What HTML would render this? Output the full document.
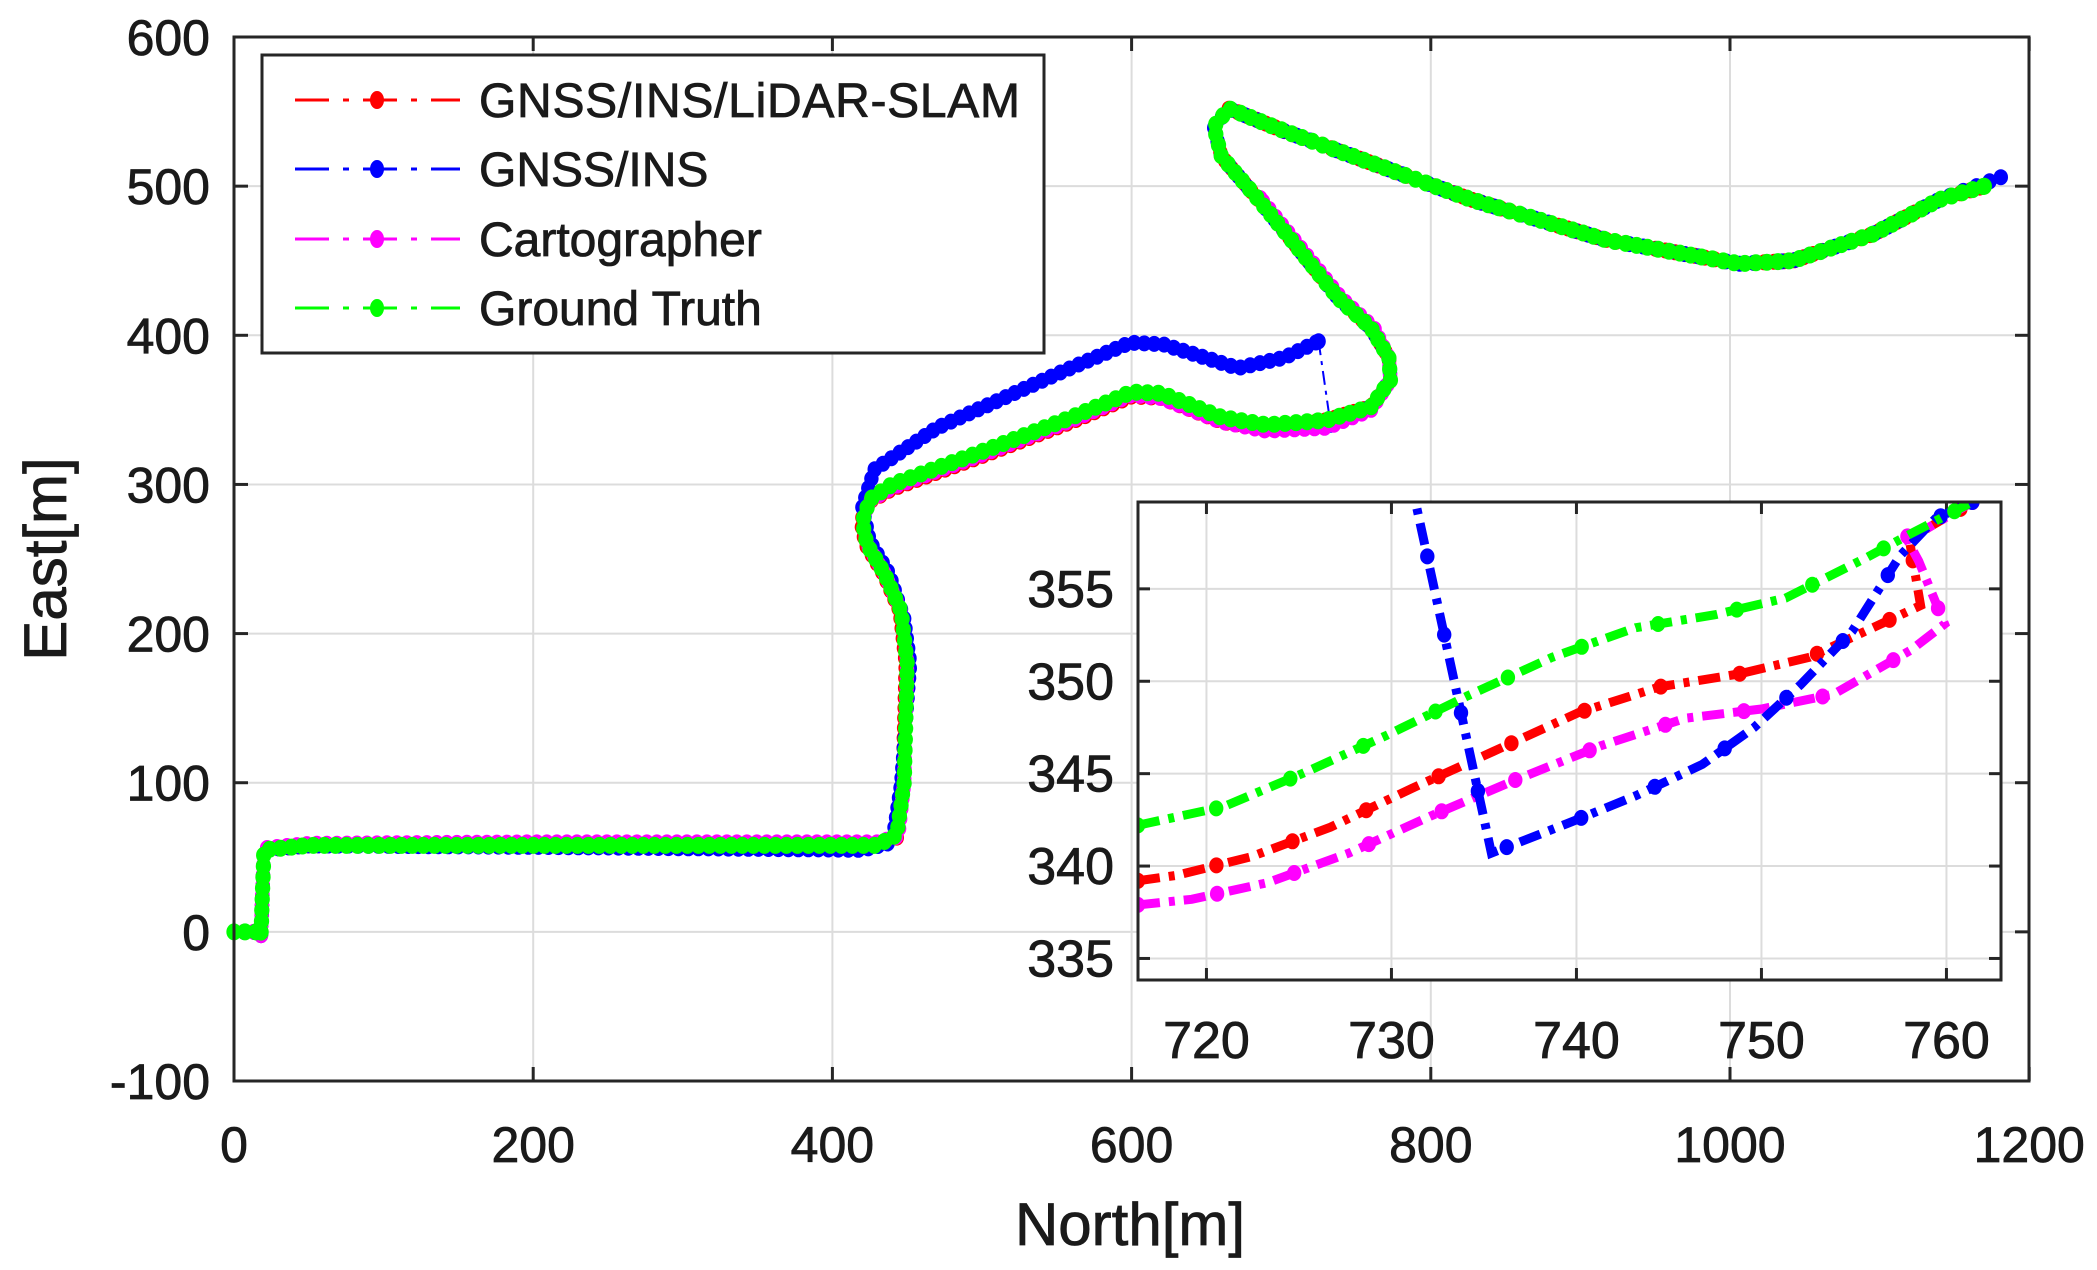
<!DOCTYPE html>
<html><head><meta charset="utf-8"><style>html,body{margin:0;padding:0;background:#fff}svg{display:block}text{font-family:"Liberation Sans",Arial,sans-serif;fill:#1a1a1a;stroke:#1a1a1a;stroke-width:0.8px}</style></head>
<body>
<svg id="s" width="2097" height="1270" xmlns="http://www.w3.org/2000/svg"></svg>
<script>
const S=document.getElementById('s');const NS='http://www.w3.org/2000/svg';
function el(t,a,p){const e=document.createElementNS(NS,t);for(const k in a)e.setAttribute(k,a[k]);(p||S).appendChild(e);return e;}
function txt(x,y,s,size,anchor,extra){const e=el('text',Object.assign({x:x,y:y,'font-size':size,'text-anchor':anchor||'middle'},extra||{}));e.textContent=s;return e;}
const L=234,R=2029,T=37,B=1081;
const X=n=>L+n*1.496, Y=e=>B-(e+100)*1.4914;
for(let n=0;n<=1200;n+=200){el('line',{x1:X(n),x2:X(n),y1:T,y2:B,stroke:'#dcdcdc','stroke-width':2});}
for(let e=-100;e<=600;e+=100){el('line',{x1:L,x2:R,y1:Y(e),y2:Y(e),stroke:'#dcdcdc','stroke-width':2});}
for(let n=0;n<=1200;n+=200){el('line',{x1:X(n),x2:X(n),y1:B,y2:B-14,stroke:'#262626','stroke-width':3});el('line',{x1:X(n),x2:X(n),y1:T,y2:T+14,stroke:'#262626','stroke-width':3});txt(X(n),1162,String(n),50);}
for(let e=-100;e<=600;e+=100){el('line',{x1:L,x2:L+14,y1:Y(e),y2:Y(e),stroke:'#262626','stroke-width':3});el('line',{x1:R,x2:R-14,y1:Y(e),y2:Y(e),stroke:'#262626','stroke-width':3});txt(210,Y(e)+18,String(e),50,'end');}
txt(1130,1245,'North[m]',60);
txt(0,0,'East[m]',60,'middle',{transform:'translate(66,559) rotate(-90)'});
function resample(pts,fx,fy,sp){const out=[];let carry=0;for(let i=0;i<pts.length-1;i++){const x1=fx(pts[i][0]),y1=fy(pts[i][1]),x2=fx(pts[i+1][0]),y2=fy(pts[i+1][1]);const d=Math.hypot(x2-x1,y2-y1);let t=carry;while(t<d){out.push([x1+(x2-x1)*t/d,y1+(y2-y1)*t/d]);t+=sp;}carry=t-d;}const l=pts[pts.length-1];out.push([fx(l[0]),fy(l[1])]);return out;}
function series(pts,col,fx,fy,lw,dash,r,sp,parent){const d=pts.map((p,i)=>(i?'L':'M')+fx(p[0]).toFixed(1)+' '+fy(p[1]).toFixed(1)).join('');el('path',{d:d,fill:'none',stroke:col,'stroke-width':lw,'stroke-dasharray':dash},parent);const g=el('g',{fill:col},parent);resample(pts,fx,fy,sp).forEach(p=>el('ellipse',{cx:p[0].toFixed(1),cy:p[1].toFixed(1),rx:r*0.9,ry:r},g));}
const start=[[0,0],[15,0],[18,-3],[20,55],[50,58],[200,58],[430,58]];
const upper=[[665,552],[702,537],[827,491],[917,464],[1006,448],[1042,450],[1096,468],[1140,491]];
const loop=[[730,343],[760,352],[773,370],[772,385],[760,405],[738,425],[710,460],[684,492],[660,520],[655,540]];
const green=start.concat([[443,65],[448,100],[450,180],[446,215],[435,240],[423,260],[420,275],[425,290],[440,300],[500,322],[560,345],[600,362],[620,361],[660,345],[690,340]],loop,upper,[[1170,500]]);
const red=start.concat([[443,63],[447,100],[449,180],[445,215],[434,240],[422,260],[419,275],[424,288],[440,297],[500,319],[560,342],[600,359],[620,358],[660,342],[690,337]],loop,upper,[[1170,500]]);
const mag=[[0,0],[15,0],[18,-3],[20,56],[50,59],[200,60],[430,60],[444,64],[448,100],[450,180],[446,215],[435,240],[423,260],[420,275],[425,289],[440,298],[500,320],[560,343],[600,360],[620,358],[660,342],[690,336],[730,338],[760,350],[773,370],[772,385],[762,405],[740,425],[712,460],[686,492]];
const blue1=[[0,0],[15,0],[18,-3],[20,55],[50,58],[200,57],[420,55],[440,60],[446,100],[452,180],[448,210],[438,240],[425,262],[420,285],[428,310],[470,338],[559,378],[599,395],[621,394],[671,378],[702,385],[725,396]];
const blue2=[[733,340],[760,352],[773,370]].concat(loop.slice(3),upper,[[1181,506]]);
series(red,'#ff0000',X,Y,2,'14 6 4 6',8,10);
series(blue1,'#0000ff',X,Y,2,'14 6 4 6',8,10);
el('path',{d:`M${X(725)} ${Y(396)}L${X(733)} ${Y(340)}`,stroke:'#0000ff','stroke-width':2,'stroke-dasharray':'14 6 4 6',fill:'none'});
series(blue2,'#0000ff',X,Y,2,'14 6 4 6',8,14);
series(mag,'#ff00ff',X,Y,2,'14 6 4 6',8,10);
series(green,'#00ff00',X,Y,2,'14 6 4 6',8.5,11);
el('rect',{x:L,y:T,width:R-L,height:B-T,fill:'none',stroke:'#262626','stroke-width':3});
el('rect',{x:262,y:55,width:782,height:298,fill:'#fff',stroke:'#262626','stroke-width':3});
[['GNSS/INS/LiDAR-SLAM','#ff0000',100,541],['GNSS/INS','#0000ff',169,0],['Cartographer','#ff00ff',239,0],['Ground Truth','#00ff00',308,0]].forEach(a=>{el('line',{x1:295,x2:460,y1:a[2],y2:a[2],stroke:a[1],'stroke-width':3,'stroke-dasharray':'34 14 6 14'});el('ellipse',{cx:377,cy:a[2],rx:7,ry:9,fill:a[1]});const t=txt(479,a[2]+17,a[0],48,'start',{fill:'#000',stroke:'#000'});if(a[3])t.setAttribute('textLength',a[3]);});
const IL=1138,IR=2001,IT=502,IB=980;
const IX=n=>IL+(n-716.3)*18.5, IY=e=>IT+(359.7-e)*18.48;
el('rect',{x:IL,y:IT,width:IR-IL,height:IB-IT,fill:'#fff'});
const cp=el('clipPath',{id:'c'});el('rect',{x:IL,y:IT,width:IR-IL,height:IB-IT},cp);
for(let n=720;n<=760;n+=10){el('line',{x1:IX(n),x2:IX(n),y1:IT,y2:IB,stroke:'#dcdcdc','stroke-width':2});el('line',{x1:IX(n),x2:IX(n),y1:IB,y2:IB-12,stroke:'#262626','stroke-width':3});el('line',{x1:IX(n),x2:IX(n),y1:IT,y2:IT+12,stroke:'#262626','stroke-width':3});txt(IX(n),1058,String(n),52);}
for(let e=335;e<=355;e+=5){el('line',{x1:IL,x2:IR,y1:IY(e),y2:IY(e),stroke:'#dcdcdc','stroke-width':2});el('line',{x1:IL,x2:IL+12,y1:IY(e),y2:IY(e),stroke:'#262626','stroke-width':3});el('line',{x1:IR,x2:IR-12,y1:IY(e),y2:IY(e),stroke:'#262626','stroke-width':3});txt(1114,IY(e)+18,String(e),52,'end');}
const G=el('g',{'clip-path':'url(#c)'});
const iG=[[716.3,342.2],[716.7,342.3],[720.9,343.2],[725.4,345.1],[729.8,347.1],[734.1,349.2],[738.7,351.3],[743.2,352.9],[747.5,353.6],[751.3,354.5],[755.7,356.7],[758.1,358.0],[761.4,359.7],[763,360.6]];
const iR=[[716.3,339.2],[718.4,339.5],[722.4,340.5],[726.7,342.1],[731.1,344.2],[735.5,346.2],[740.1,348.3],[744.5,349.7],[748.8,350.4],[752.6,351.3],[758.6,354.1],[758.0,357.6],[759,358.3],[761.4,359.7]];
const iM=[[716.3,337.9],[719.2,338.2],[723.3,339.1],[727.7,340.7],[732.1,342.7],[736.8,344.7],[741.3,346.5],[745.9,348.0],[750.0,348.5],[753.9,349.3],[758.1,351.7],[759.9,353.1],[758.5,356.5],[757.8,357.8],[759,358.3],[761.4,359.7]];
const iB=[[731.1,361],[731.3,359.7],[735.4,340.7],[739.5,342.3],[743.2,343.8],[746.8,345.5],[749.6,347.5],[752.1,349.8],[754.9,352.7],[757.5,356.8],[759.4,358.8],[761.4,359.7]];
series(iR,'#ff0000',IX,IY,9,'22 9 6 9',8,80,G);
series(iM,'#ff00ff',IX,IY,9,'22 9 6 9',8,80,G);
series(iB,'#0000ff',IX,IY,9,'22 9 6 9',8,80,G);
series(iG,'#00ff00',IX,IY,9,'22 9 6 9',8,80,G);
el('rect',{x:IL,y:IT,width:IR-IL,height:IB-IT,fill:'none',stroke:'#262626','stroke-width':3});
</script>
</body></html>
